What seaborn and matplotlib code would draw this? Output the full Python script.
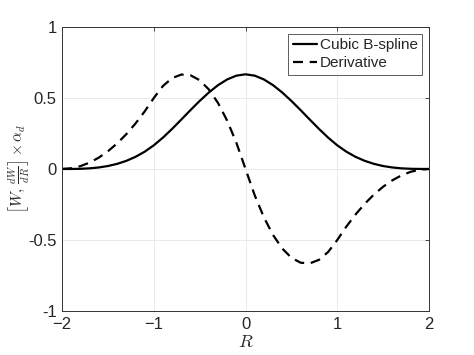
import pandas as pd
import numpy as np
import matplotlib
matplotlib.use('Agg')
import matplotlib.pyplot as plt
import seaborn as sns

# values
r_vals = [-2.0, -1.9, -1.8, -1.7, -1.6, -1.5, -1.4, -1.3, -1.2, -1.1, -1.0,
          -0.9, -0.8, -0.7, -0.6, -0.5, -0.4, -0.3, -0.2, -0.1, 0.0,
          0.1, 0.2, 0.3, 0.4, 0.5, 0.6, 0.7, 0.8, 0.9, 1.0,
          1.1, 1.2, 1.3, 1.4, 1.5, 1.6, 1.7, 1.8, 1.9, 2.0]
spline_vals = [0.0, 0.0002, 0.0013, 0.0045, 0.0107, 0.0208, 0.036, 0.0572, 0.0853, 0.1215, 0.1667,
               0.2212, 0.2827, 0.3482, 0.4147, 0.4792, 0.5387, 0.5902, 0.6307, 0.6572, 0.6667,
               0.6572, 0.6307, 0.5902, 0.5387, 0.4792, 0.4147, 0.3482, 0.2827, 0.2212, 0.1667,
               0.1215, 0.0853, 0.0572, 0.036, 0.0208, 0.0107, 0.0045, 0.0013, 0.0002, 0.0]
deriv_vals = [0.0, 0.005, 0.02, 0.045, 0.08, 0.125, 0.18, 0.245, 0.32, 0.405, 0.5,
              0.585, 0.64, 0.665, 0.66, 0.625, 0.56, 0.465, 0.34, 0.185, 0.0,
              -0.185, -0.34, -0.465, -0.56, -0.625, -0.66, -0.665, -0.64, -0.585, -0.5,
              -0.405, -0.32, -0.245, -0.18, -0.125, -0.08, -0.045, -0.02, -0.005, 0.0]
x_ticks = [-2, -1, 0, 1, 2]
y_ticks = [-1, -0.5, 0, 0.5, 1]
y_tick_labels = ['-1', '-0.5', '0', '0.5', '1']

sns.set_style("whitegrid")
plt.rcParams['font.family'] = ['Liberation Sans', 'DejaVu Sans']
plt.rcParams['mathtext.fontset'] = 'cm'

fig = plt.figure(figsize=(4.74, 3.55), dpi=100)
ax = fig.add_axes([0.131, 0.124, 0.774, 0.80])

sns.lineplot(x=r_vals, y=spline_vals, color='black', linewidth=1.6, ax=ax,
             label='Cubic B-spline')
sns.lineplot(x=r_vals, y=deriv_vals, color='black', linewidth=1.6, ax=ax,
             label='Derivative', linestyle=(0, (4.5, 3)))

ax.set_xlim(-2, 2)
ax.set_ylim(-1, 1)
ax.set_xticks(x_ticks)
ax.set_yticks(y_ticks)
ax.set_yticklabels(y_tick_labels)
ax.tick_params(direction='in', length=3, width=0.6, colors='#262626', labelsize=12,
               top=True, right=True, pad=4)
ax.grid(True, color='#e6e6e6', linewidth=0.6)
for s in ax.spines.values():
    s.set_color('#333333')
    s.set_linewidth(0.7)

ax.set_xlabel(r'$R$', fontsize=13, labelpad=2)
ax.set_ylabel(r'$\left[W,\,\frac{dW}{dR}\right]\times\alpha_d$', fontsize=11)
ax.yaxis.set_label_coords(-0.085, 0.5)

leg = ax.legend(loc='upper right', fontsize=11, frameon=True, fancybox=False,
                handlelength=1.6, handletextpad=0.15, borderpad=0.3, labelspacing=0.25,
                borderaxespad=0.45)
leg.get_frame().set_edgecolor('#333333')
leg.get_frame().set_linewidth(0.7)

plt.savefig('out.png', dpi=100)
plt.close()
